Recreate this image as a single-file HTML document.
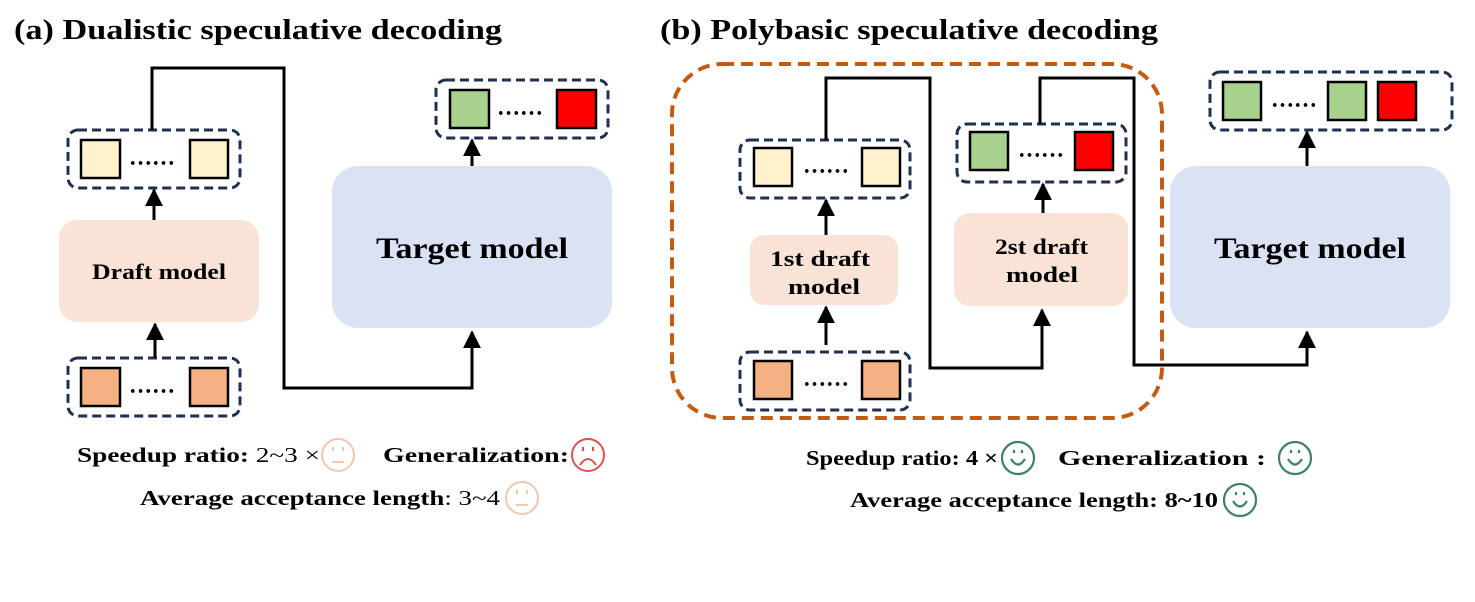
<!DOCTYPE html>
<html><head><meta charset="utf-8"><style>
html,body{margin:0;padding:0;background:#fff}
svg{display:block}
text{font-family:"Liberation Serif",serif;font-weight:bold;fill:#000}
</style></head><body>
<svg width="1475" height="602" viewBox="0 0 1475 602" xmlns="http://www.w3.org/2000/svg">
<defs>
<marker id="ah" viewBox="0 0 10 10" refX="9" refY="5" markerWidth="6" markerHeight="6" orient="auto" markerUnits="strokeWidth">
<path d="M0,0 L10,5 L0,10 z" fill="#000"/></marker>
</defs>
<g font-size="28" lengthAdjust="spacingAndGlyphs">
<text x="14" y="39" textLength="488" lengthAdjust="spacingAndGlyphs">(a) Dualistic speculative decoding</text>
<text x="660" y="39" textLength="498" lengthAdjust="spacingAndGlyphs">(b) Polybasic speculative decoding</text>
</g>

<!-- LEFT -->
<rect x="59" y="220" width="200" height="102" rx="18" fill="#f9e3d6"/>
<text x="92" y="279" font-size="22" textLength="134" lengthAdjust="spacingAndGlyphs">Draft model</text>
<rect x="332" y="166" width="280" height="162" rx="26" fill="#dbe2f4"/>
<text x="376" y="258" font-size="30" textLength="192" lengthAdjust="spacingAndGlyphs">Target model</text>

<g fill="none" stroke="#1f3050" stroke-width="3" stroke-dasharray="9,5">
<rect x="68" y="130" width="172" height="58" rx="10"/>
<rect x="68" y="358" width="172" height="58" rx="10"/>
<rect x="436" y="80" width="172" height="58" rx="10"/>
</g>
<g stroke="#000" stroke-width="2.5">
<rect x="81" y="140" width="39" height="38" fill="#fff2cc"/>
<rect x="190" y="140" width="38" height="38" fill="#fff2cc"/>
<rect x="81" y="368" width="39" height="38" fill="#f4b183"/>
<rect x="190" y="368" width="38" height="38" fill="#f4b183"/>
<rect x="450" y="90" width="39" height="38" fill="#a9d18e"/>
<rect x="557" y="90" width="39" height="38" fill="#ff0000"/>
</g>
<g font-size="24">
<text x="129" y="165" textLength="46" lengthAdjust="spacingAndGlyphs">……</text>
<text x="129" y="393" textLength="46" lengthAdjust="spacingAndGlyphs">……</text>
<text x="497" y="115" textLength="46" lengthAdjust="spacingAndGlyphs">……</text>
</g>
<g fill="none" stroke="#000" stroke-width="3">
<polyline points="152,130 152,68 284,68 284,388 472,388 472,332" marker-end="url(#ah)"/>
<line x1="154" y1="220" x2="154" y2="190" marker-end="url(#ah)"/>
<line x1="155" y1="358" x2="155" y2="324" marker-end="url(#ah)"/>
<line x1="472" y1="166" x2="472" y2="140" marker-end="url(#ah)"/>
</g>

<g font-size="21">
<text x="77" y="462" textLength="243" lengthAdjust="spacingAndGlyphs">Speedup ratio:  <tspan font-weight="normal">2~3 ×</tspan></text>
<text x="383" y="462" textLength="186" lengthAdjust="spacingAndGlyphs">Generalization:</text>
<text x="140" y="505" textLength="360" lengthAdjust="spacingAndGlyphs">Average acceptance length<tspan font-weight="normal">: 3~4</tspan></text>
</g>
<g fill="none" stroke-width="2">
<g stroke="#f0c8b0"><circle cx="338" cy="455" r="16"/><line x1="332" y1="462" x2="344" y2="462"/><line x1="333" y1="447" x2="333" y2="451"/><line x1="343" y1="447" x2="343" y2="451"/></g>
<g stroke="#f0c8b0"><circle cx="522" cy="498" r="16"/><line x1="516" y1="505" x2="528" y2="505"/><line x1="517" y1="490" x2="517" y2="494"/><line x1="527" y1="490" x2="527" y2="494"/></g>
<g stroke="#d9534f"><circle cx="588" cy="455" r="16"/><path d="M580,465 Q588,453 596,465"/><line x1="583" y1="447" x2="583" y2="451"/><line x1="593" y1="447" x2="593" y2="451"/></g>
</g>

<!-- RIGHT -->
<rect x="672" y="64" width="490" height="354" rx="50" fill="none" stroke="#c55a11" stroke-width="4" stroke-dasharray="12,7"/>
<rect x="750" y="235" width="148" height="70" rx="14" fill="#f9e3d6"/>
<text x="770" y="266" font-size="22" textLength="100" lengthAdjust="spacingAndGlyphs">1st draft</text>
<text x="788" y="294" font-size="22" textLength="72" lengthAdjust="spacingAndGlyphs">model</text>
<rect x="954" y="213" width="174" height="93" rx="16" fill="#f9e3d6"/>
<text x="995" y="254" font-size="22" textLength="93" lengthAdjust="spacingAndGlyphs">2st draft</text>
<text x="1006" y="282" font-size="22" textLength="72" lengthAdjust="spacingAndGlyphs">model</text>
<rect x="1170" y="166" width="280" height="162" rx="26" fill="#dbe2f4"/>
<text x="1214" y="258" font-size="30" textLength="192" lengthAdjust="spacingAndGlyphs">Target model</text>

<g fill="none" stroke="#1f3050" stroke-width="3" stroke-dasharray="9,5">
<rect x="740" y="140" width="170" height="58" rx="10"/>
<rect x="740" y="352" width="170" height="58" rx="10"/>
<rect x="957" y="124" width="169" height="58" rx="10"/>
<rect x="1210" y="72" width="242" height="58" rx="10"/>
</g>
<g stroke="#000" stroke-width="2.5">
<rect x="754" y="148" width="38" height="38" fill="#fff2cc"/>
<rect x="862" y="148" width="38" height="38" fill="#fff2cc"/>
<rect x="754" y="361" width="38" height="38" fill="#f4b183"/>
<rect x="862" y="361" width="38" height="38" fill="#f4b183"/>
<rect x="970" y="132" width="38" height="38" fill="#a9d18e"/>
<rect x="1075" y="132" width="38" height="38" fill="#ff0000"/>
<rect x="1223" y="82" width="38" height="38" fill="#a9d18e"/>
<rect x="1328" y="82" width="38" height="38" fill="#a9d18e"/>
<rect x="1378" y="82" width="38" height="38" fill="#ff0000"/>
</g>
<g font-size="24">
<text x="803" y="173" textLength="46" lengthAdjust="spacingAndGlyphs">……</text>
<text x="803" y="386" textLength="46" lengthAdjust="spacingAndGlyphs">……</text>
<text x="1018" y="157" textLength="46" lengthAdjust="spacingAndGlyphs">……</text>
<text x="1271" y="107" textLength="46" lengthAdjust="spacingAndGlyphs">……</text>
</g>
<g fill="none" stroke="#000" stroke-width="3">
<polyline points="826,140 826,78 930,78 930,368 1042,368 1042,310" marker-end="url(#ah)"/>
<polyline points="1040,124 1040,78 1134,78 1134,365 1307,365 1307,332" marker-end="url(#ah)"/>
<line x1="826" y1="235" x2="826" y2="200" marker-end="url(#ah)"/>
<line x1="826" y1="345" x2="826" y2="307" marker-end="url(#ah)"/>
<line x1="1043" y1="213" x2="1043" y2="184" marker-end="url(#ah)"/>
<line x1="1307" y1="166" x2="1307" y2="132" marker-end="url(#ah)"/>
</g>

<g font-size="21">
<text x="806" y="465" textLength="192" lengthAdjust="spacingAndGlyphs">Speedup ratio:  4 ×</text>
<text x="1058" y="465" textLength="208" lengthAdjust="spacingAndGlyphs">Generalization :</text>
<text x="850" y="507" textLength="368" lengthAdjust="spacingAndGlyphs">Average acceptance length: 8~10</text>
</g>
<g fill="none" stroke="#3f8068" stroke-width="2.2">
<g><circle cx="1018" cy="458" r="16"/><path d="M1011,459 Q1018,470 1025,459"/><line x1="1014" y1="450" x2="1014" y2="453"/><line x1="1022" y1="450" x2="1022" y2="453"/></g>
<g><circle cx="1295" cy="458" r="16"/><path d="M1288,459 Q1295,470 1302,459"/><line x1="1291" y1="450" x2="1291" y2="453"/><line x1="1299" y1="450" x2="1299" y2="453"/></g>
<g><circle cx="1240" cy="500" r="16"/><path d="M1233,501 Q1240,512 1247,501"/><line x1="1236" y1="492" x2="1236" y2="495"/><line x1="1244" y1="492" x2="1244" y2="495"/></g>
</g>
</svg>
</body></html>
